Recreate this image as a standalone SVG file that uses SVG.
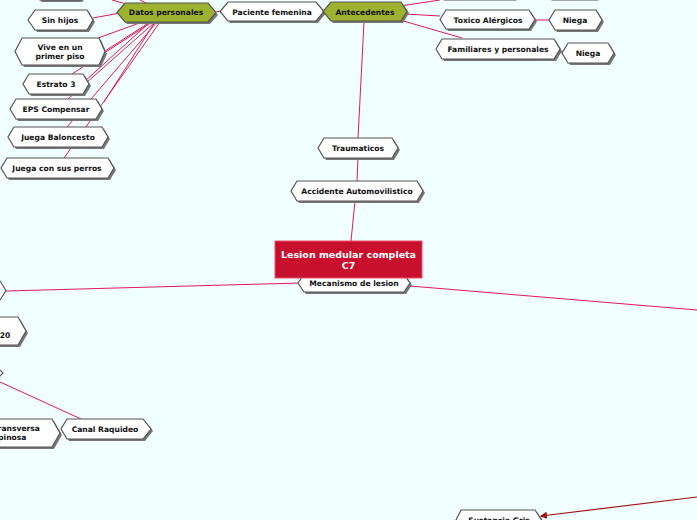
<svg xmlns="http://www.w3.org/2000/svg" width="697" height="520" viewBox="0 0 697 520">
<style>
.h{fill:#fff;stroke:#555;stroke-width:1.2}
.g{fill:#9db22f;stroke:#555;stroke-width:1.2}
.s{fill:#777}
text{font-family:"DejaVu Sans",Verdana,sans-serif;font-size:7.6px;font-weight:bold;fill:#111;text-anchor:middle}
.c{stroke:#e0195a;stroke-width:1;fill:none}
</style>
<defs><marker id="a" markerWidth="6" markerHeight="6" refX="5" refY="3" orient="auto"><path d="M0,0L6,3L0,6z" fill="#a01010"/></marker></defs>
<rect width="697" height="520" fill="#f0fffd"/>
<g id="connectors">
<path class="c" d="M93,18L120,13M98,38L145,21M72,74L152,22M68,99L155,22M67,127L157,22M64,158L160,22M88,62L150,22M84,82L150,22M104,102L155,22M112,0L130,5M140,0L148,4"/>
<path class="c" d="M216,12L221,11M400,6L440,0M405,14L440,16M400,20L462,38M364,22L358,138M535,20L549,20M560,52L563,52"/>
<path class="c" d="M358,158L357,181M355,201L351,241M300,283L6,291M410,286L697,310M0,382L81,419"/>
<path d="M697,497L541,516" stroke="#a01010" stroke-width="1.2" marker-end="url(#a)"/>
</g>
<g id="n-partial-top"><path class="s" d="M42,-12H82L86,-2L82,2H42L38,-2z"/><path class="h" d="M40,-14H80L84,-4L80,0H40L36,-4z"/></g>
<g id="n-partial-tr1"><path class="h" d="M444,-18H516L522,-8L516,0H444L438,-8z"/></g>
<g id="n-partial-tr2"><path class="h" d="M552,-18H598L604,-8L598,0H552L546,-8z"/></g>
<g id="n-datos"><path class="s" d="M127,5H210L218,15L210,24H127L119,15z"/><path class="g" d="M125,3H208L216,12.5L208,22H125L117,12.5z"/><text x="166" y="15">Datos personales</text></g>
<g id="n-paciente"><path class="s" d="M230,4H318L326,13L318,23H230L222,13z"/><path class="h" d="M228,2H316L324,11.5L316,21H228L220,11.5z"/><text x="272" y="14.5">Paciente femenina</text></g>
<g id="n-antecedentes"><path class="s" d="M333,4H403L409,13L403,23H333L325,13z"/><path class="g" d="M331,2H401L407,11.5L401,21H331L323,11.5z"/><text x="365" y="14.5">Antecedentes</text></g>
<g id="n-sinhijos"><path class="s" d="M37,12H89L95,22L89,32H37L30,22z"/><path class="h" d="M35,10H87L93,20L87,30H35L28,20z"/><text x="60" y="23">Sin hijos</text></g>
<g id="n-vive"><path class="s" d="M24,40H101L107,54L101,67H24L17,54z"/><path class="h" d="M22,38H99L105,51.5L99,65H22L15,51.5z"/><text x="60" y="50">Vive en un</text><text x="60" y="59">primer piso</text></g>
<g id="n-estrato"><path class="s" d="M31,76H85L91,86L85,96H31L25,86z"/><path class="h" d="M29,74H83L89,84L83,94H29L23,84z"/><text x="56" y="87">Estrato 3</text></g>
<g id="n-eps"><path class="s" d="M18,101H98L104,111L98,121H18L12,111z"/><path class="h" d="M16,99H96L102,109L96,119H16L10,109z"/><text x="56" y="112">EPS Compensar</text></g>
<g id="n-baloncesto"><path class="s" d="M16,129H104L110,139L104,149H16L10,139z"/><path class="h" d="M14,127H102L108,137L102,147H14L8,137z"/><text x="58" y="140">Juega Baloncesto</text></g>
<g id="n-perros"><path class="s" d="M9,160H110L116,170L110,180H9L3,170z"/><path class="h" d="M7,158H108L114,168L108,178H7L1,168z"/><text x="57" y="171">Juega con sus perros</text></g>
<g id="n-toxico"><path class="s" d="M448,12H531L537,21.5L531,31H448L442,21.5z"/><path class="h" d="M446,10H529L535,19.5L529,29H446L440,19.5z"/><text x="488" y="22.5">Toxico Alérgicos</text></g>
<g id="n-niega1"><path class="s" d="M557,12H598L604,22L598,32H557L551,22z"/><path class="h" d="M555,10H596L602,20L596,30H555L549,20z"/><text x="575" y="23">Niega</text></g>
<g id="n-familiares"><path class="s" d="M444,41H556L562,51L556,61H444L438,51z"/><path class="h" d="M442,39H554L560,49L554,59H442L436,49z"/><text x="498" y="52">Familiares y personales</text></g>
<g id="n-niega2"><path class="s" d="M570,45H610L616,55L610,65H570L564,55z"/><path class="h" d="M568,43H608L614,53L608,63H568L562,53z"/><text x="588" y="56">Niega</text></g>
<g id="n-traumaticos"><path class="s" d="M326,140H394L400,150L394,160H326L320,150z"/><path class="h" d="M324,138H392L398,148L392,158H324L318,148z"/><text x="358" y="151">Traumaticos</text></g>
<g id="n-accidente"><path class="s" d="M299,183H419L425,193L419,203H299L293,193z"/><path class="h" d="M297,181H417L423,191L417,201H297L291,191z"/><text x="357" y="194">Accidente Automovilistico</text></g>
<g id="n-mecanismo"><path class="s" d="M306,276H406L412,285L406,294H306L300,285z"/><path class="h" d="M304,274H404L410,283L404,292H304L298,283z"/><text x="354" y="285.5">Mecanismo de lesion</text></g>
<g id="n-lesion"><rect x="275" y="241" width="147" height="37" fill="#c8102e" stroke="#e8506a" stroke-width="1"/><text x="348.5" y="258" style="fill:#fff;font-size:9.5px">Lesion medular completa</text><text x="348.5" y="269" style="fill:#fff;font-size:9.5px">C7</text></g>
<g id="n-left1"><path class="h" d="M-20,281H0L6,290.5L0,300H-20z"/></g>
<g id="n-left2"><path class="s" d="M-20,319H20L28,333L20,347H-20z"/><path class="h" d="M-20,317H18L26,331L18,345H-20z"/><text x="5" y="338">20</text></g>
<g id="n-left3"><path class="h" d="M-10,368H-2L3,373L-2,378H-10z"/></g>
<g id="n-transversa"><path class="s" d="M-20,421H54L62,435L54,449H-20z"/><path class="h" d="M-20,419H52L60,433L52,447H-20z"/><text x="17" y="431">transversa</text><text x="10" y="440">spinosa</text></g>
<g id="n-canal"><path class="s" d="M69,421H145L153,431L145,441H69L63,431z"/><path class="h" d="M67,419H143L151,429L143,439H67L61,429z"/><text x="105" y="432">Canal Raquideo</text></g>
<g id="n-sustancia"><path class="s" d="M463,512H537L545,524L537,536H463L457,524z"/><path class="h" d="M461,510H535L543,522L535,534H461L455,522z"/><text x="499" y="523">Sustancia Gris</text></g>
</svg>
